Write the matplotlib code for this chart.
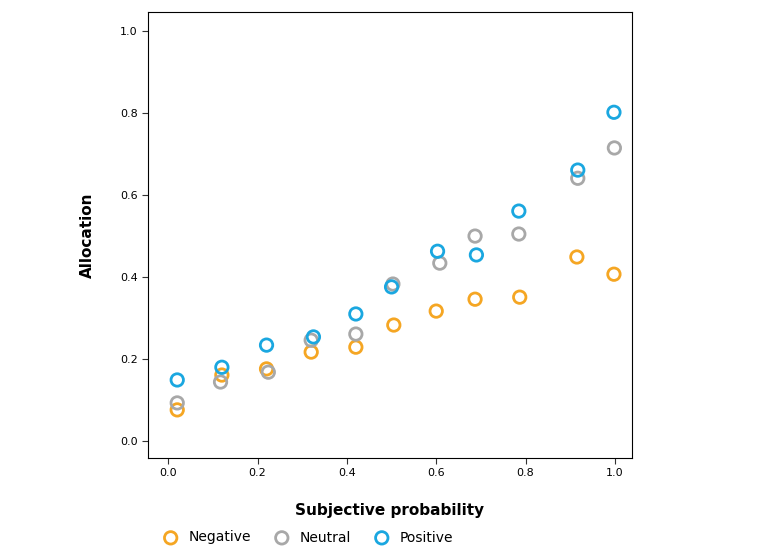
import matplotlib.pyplot as plt
from matplotlib.ticker import FormatStrFormatter

neg_x = [0.02, 0.12, 0.22, 0.32, 0.42, 0.505, 0.60, 0.687, 0.787, 0.915, 0.998]
neg_y = [0.076, 0.161, 0.176, 0.217, 0.229, 0.283, 0.317, 0.346, 0.351, 0.449, 0.407]
neu_x = [0.02, 0.117, 0.224, 0.32, 0.42, 0.503, 0.608, 0.687, 0.785, 0.917, 0.999]
neu_y = [0.093, 0.144, 0.168, 0.246, 0.261, 0.383, 0.434, 0.500, 0.505, 0.641, 0.715]
pos_x = [0.02, 0.12, 0.22, 0.325, 0.42, 0.50, 0.603, 0.69, 0.785, 0.917, 0.998]
pos_y = [0.149, 0.180, 0.234, 0.254, 0.310, 0.376, 0.463, 0.454, 0.561, 0.661, 0.802]

fig = plt.figure(figsize=(7.8, 5.57), dpi=100)
ax = fig.add_axes([0.19, 0.178, 0.62, 0.80])
style = dict(s=80, facecolors='none', linewidths=2)
ax.scatter(neg_x, neg_y, edgecolors='#f5a623', label='Negative', **style)
ax.scatter(neu_x, neu_y, edgecolors='#a8a8a8', label='Neutral', **style)
ax.scatter(pos_x, pos_y, edgecolors='#1aa7e0', label='Positive', **style)

ax.set_xlim(-0.045, 1.038)
ax.set_ylim(-0.041, 1.046)
ax.set_xticks([0, 0.2, 0.4, 0.6, 0.8, 1.0])
ax.set_yticks([0, 0.2, 0.4, 0.6, 0.8, 1.0])
ax.xaxis.set_major_formatter(FormatStrFormatter('%.1f'))
ax.yaxis.set_major_formatter(FormatStrFormatter('%.1f'))
ax.tick_params(labelsize=8, length=4, color='#333333')
ax.set_xlabel('Subjective probability', fontsize=11, fontweight='bold', labelpad=18)
ax.set_ylabel('Allocation', fontsize=11, fontweight='bold', labelpad=18)

fig.legend(loc='lower left', bbox_to_anchor=(0.185, 0.0), ncol=3, frameon=False,
           fontsize=10, handletextpad=0.3, columnspacing=1.2)
fig.savefig('out.png')
